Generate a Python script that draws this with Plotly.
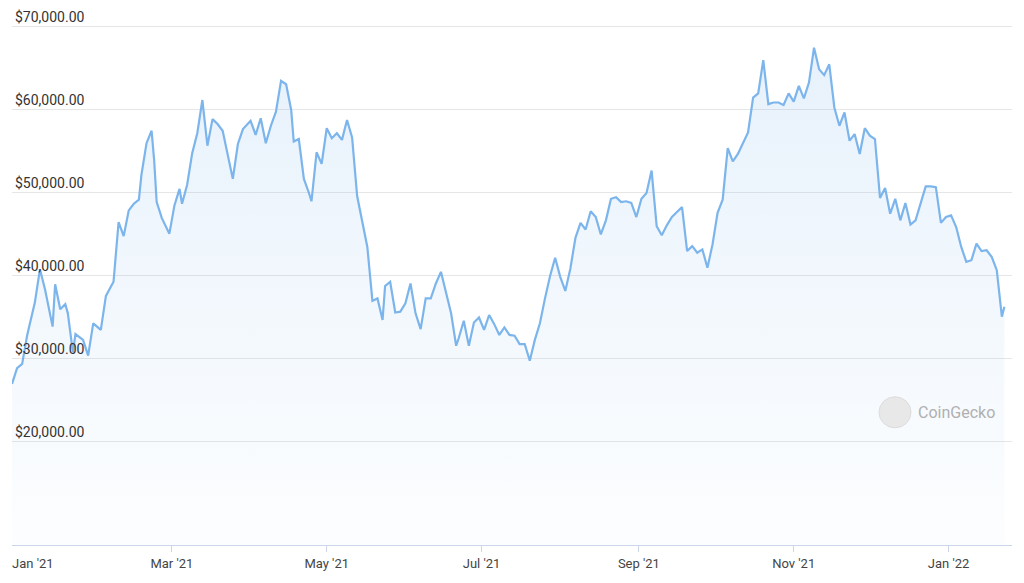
import plotly.graph_objects as go

dates = [
    "2020-12-28", "2020-12-30", "2021-01-01", "2021-01-03", "2021-01-06", "2021-01-08", "2021-01-10",
    "2021-01-12", "2021-01-13", "2021-01-14", "2021-01-16", "2021-01-18", "2021-01-19", "2021-01-21",
    "2021-01-22", "2021-01-25", "2021-01-27", "2021-01-29", "2021-02-01", "2021-02-03", "2021-02-06",
    "2021-02-08", "2021-02-10", "2021-02-12", "2021-02-14", "2021-02-16", "2021-02-17", "2021-02-19",
    "2021-02-21", "2021-02-22", "2021-02-23", "2021-02-25", "2021-02-26", "2021-02-28", "2021-03-02",
    "2021-03-04", "2021-03-05", "2021-03-07", "2021-03-09", "2021-03-11", "2021-03-13", "2021-03-15",
    "2021-03-17", "2021-03-19", "2021-03-21", "2021-03-23", "2021-03-25", "2021-03-27", "2021-03-29",
    "2021-04-01", "2021-04-03", "2021-04-05", "2021-04-07", "2021-04-09", "2021-04-11", "2021-04-13",
    "2021-04-15", "2021-04-17", "2021-04-18", "2021-04-20", "2021-04-22", "2021-04-24", "2021-04-25",
    "2021-04-27", "2021-04-29", "2021-05-01", "2021-05-03", "2021-05-05", "2021-05-07", "2021-05-09",
    "2021-05-11", "2021-05-13", "2021-05-15", "2021-05-17", "2021-05-19", "2021-05-21", "2021-05-23",
    "2021-05-24", "2021-05-26", "2021-05-28", "2021-05-30", "2021-06-01", "2021-06-03", "2021-06-05",
    "2021-06-07", "2021-06-09", "2021-06-11", "2021-06-13", "2021-06-15", "2021-06-17", "2021-06-19",
    "2021-06-21", "2021-06-22", "2021-06-24", "2021-06-26", "2021-06-28", "2021-06-30", "2021-07-02",
    "2021-07-04", "2021-07-06", "2021-07-08", "2021-07-10", "2021-07-12", "2021-07-14", "2021-07-16",
    "2021-07-18", "2021-07-20", "2021-07-22", "2021-07-24", "2021-07-26", "2021-07-28", "2021-07-30",
    "2021-08-01", "2021-08-03", "2021-08-05", "2021-08-07", "2021-08-09", "2021-08-11", "2021-08-13",
    "2021-08-15", "2021-08-17", "2021-08-19", "2021-08-21", "2021-08-23", "2021-08-25", "2021-08-27",
    "2021-08-29", "2021-08-31", "2021-09-02", "2021-09-04", "2021-09-06", "2021-09-08", "2021-09-10",
    "2021-09-12", "2021-09-14", "2021-09-16", "2021-09-18", "2021-09-20", "2021-09-22", "2021-09-24",
    "2021-09-26", "2021-09-28", "2021-09-30", "2021-10-02", "2021-10-04", "2021-10-06", "2021-10-08",
    "2021-10-10", "2021-10-12", "2021-10-14", "2021-10-16", "2021-10-18", "2021-10-20", "2021-10-22",
    "2021-10-24", "2021-10-26", "2021-10-28", "2021-10-30", "2021-11-01", "2021-11-03", "2021-11-05",
    "2021-11-07", "2021-11-09", "2021-11-11", "2021-11-13", "2021-11-15", "2021-11-17", "2021-11-19",
    "2021-11-21", "2021-11-23", "2021-11-25", "2021-11-27", "2021-11-29", "2021-12-01", "2021-12-03",
    "2021-12-05", "2021-12-07", "2021-12-09", "2021-12-11", "2021-12-13", "2021-12-15", "2021-12-17",
    "2021-12-19", "2021-12-21", "2021-12-23", "2021-12-25", "2021-12-27", "2021-12-29", "2021-12-31",
    "2022-01-02", "2022-01-04", "2022-01-06", "2022-01-08", "2022-01-10", "2022-01-12", "2022-01-14",
    "2022-01-16", "2022-01-18", "2022-01-20", "2022-01-22", "2022-01-23",
]
prices_k = [
    27.0, 28.9, 29.4, 32.9, 36.8, 40.8, 38.4, 35.5, 33.9, 39.0, 36.0, 36.6, 35.5, 30.8,
    33.0, 32.3, 30.4, 34.3, 33.5, 37.6, 39.3, 46.5, 44.8, 47.9, 48.7, 49.2, 52.2, 56.0,
    57.5, 54.0, 48.9, 47.0, 46.3, 45.1, 48.5, 50.5, 48.7, 51.0, 54.8, 57.2, 61.2, 55.7,
    58.9, 58.3, 57.5, 54.5, 51.7, 55.9, 57.7, 58.7, 57.0, 59.0, 56.0, 58.1, 59.8, 63.5,
    63.1, 60.0, 56.2, 56.5, 51.7, 50.0, 49.0, 54.9, 53.5, 57.8, 56.6, 57.2, 56.4, 58.8,
    56.7, 49.6, 46.7, 43.5, 37.0, 37.3, 34.7, 38.8, 39.3, 35.6, 35.7, 36.7, 39.1, 35.5,
    33.6, 37.3, 37.3, 39.1, 40.5, 38.1, 35.5, 31.6, 32.5, 34.6, 31.6, 34.4, 35.0, 33.5,
    35.3, 34.2, 32.9, 33.8, 32.9, 32.8, 31.8, 31.8, 29.8, 32.3, 34.3, 37.3, 40.0, 42.2,
    39.9, 38.2, 40.9, 44.6, 46.4, 45.6, 47.8, 47.1, 45.0, 46.7, 49.3, 49.5, 48.9, 49.0,
    48.8, 47.1, 49.3, 50.0, 52.7, 46.0, 44.9, 46.1, 47.1, 47.7, 48.3, 43.0, 43.6, 42.8,
    43.2, 41.0, 43.8, 47.6, 49.2, 55.4, 53.8, 54.7, 56.0, 57.3, 61.5, 62.0, 66.0, 60.7,
    60.9, 60.9, 60.6, 62.0, 61.0, 62.9, 61.4, 63.3, 67.5, 64.9, 64.2, 65.5, 60.3, 58.1,
    59.7, 56.3, 57.1, 54.7, 57.8, 56.9, 56.5, 49.4, 50.6, 47.5, 49.3, 46.7, 48.8, 46.2,
    46.7, 48.9, 50.8, 50.8, 50.7, 46.4, 47.1, 47.3, 45.9, 43.5, 41.7, 41.9, 43.9, 43.0,
    43.1, 42.3, 40.7, 35.1, 36.3,
]
prices = [p * 1000 for p in prices_k]
y_ticks = [20000, 30000, 40000, 50000, 60000, 70000]
x_ticks = ["2021-01-01", "2021-03-01", "2021-05-01", "2021-07-01",
           "2021-09-01", "2021-11-01", "2022-01-01"]
x_labels = ["Jan '21", "Mar '21", "May '21", "Jul '21", "Sep '21", "Nov '21", "Jan '22"]

line_color = "#7cb5ec"

fig = go.Figure()
fig.add_trace(go.Scatter(
    x=dates, y=prices, mode="lines",
    line=dict(color=line_color, width=2.2),
    fill="tozeroy",
    fillgradient=dict(
        type="vertical",
        colorscale=[[0, "rgba(124,181,236,0)"], [1, "rgba(124,181,236,0.18)"]],
    ),
    hoverinfo="x+y",
))

# first tick label is hidden by plotly at the edge, so draw it as text
fig.add_annotation(xref="x", yref="paper", x=x_ticks[0], y=0, yshift=-9,
                   text=x_labels[0], showarrow=False, xanchor="left", yanchor="top",
                   xshift=-12, font=dict(size=13, color="#444444"))

# CoinGecko watermark
fig.add_shape(type="circle", xref="paper", yref="paper",
              x0=0.867, x1=0.899, y0=0.215, y1=0.272,
              fillcolor="#e8e8e8", line=dict(color="#dcdcdc", width=1))
fig.add_annotation(xref="paper", yref="paper", x=0.904, y=0.243,
                   text="CoinGecko", showarrow=False, xanchor="left", yanchor="middle",
                   font=dict(size=16, color="#b0b0b0", family="Roboto"))

fig.update_layout(
    width=1024, height=583,
    margin=dict(l=12, r=12, t=0, b=38, autoexpand=False),
    plot_bgcolor="white", paper_bgcolor="white",
    showlegend=False,
    font=dict(family="Roboto", size=14, color="#333333"),
    xaxis=dict(
        range=["2020-12-28", "2022-01-26"],
        tickvals=x_ticks, ticktext=x_labels,
        showgrid=False, showline=True, linecolor="#ccd6eb",
        ticks="outside", ticklen=6, tickcolor="#ccd6eb",
        tickfont=dict(color="#444444", size=13),
        automargin=False,
    ),
    yaxis=dict(
        range=[7590, 73250],
        tickvals=y_ticks,
        ticktext=[f"${v:,.2f}" for v in y_ticks],
        ticklabelposition="inside top",
        showgrid=True, gridcolor="#e6e6e6",
        zeroline=False, automargin=False,
        tickfont=dict(color="#333333", size=14),
    ),
)

fig.write_html("out.html", config={"displayModeBar": False},
               post_script="document.body.style.margin='0';")
